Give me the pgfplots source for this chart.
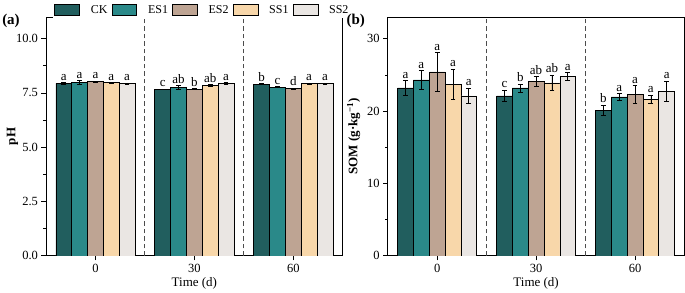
\documentclass[border=0pt]{standalone}
\usepackage{pgfplots}
\pgfplotsset{compat=1.18}
\usepackage{pgfplotstable}
\usepackage{fontspec}
\setmainfont{Liberation Serif}
\definecolor{cCK}{HTML}{215E5E}
\definecolor{cES1}{HTML}{2A8989}
\definecolor{cES2}{HTML}{BEA493}
\definecolor{cSS1}{HTML}{F8D7AA}
\definecolor{cSS2}{HTML}{EAE6E3}

\pgfplotstableread{
g y1 e1 l1 y2 e2 l2 y3 e3 l3 y4 e4 l4 y5 e5 l5
0 7.94 0.03 a 7.98 0.10 a  8.03 0.02 a 7.97 0.02 a  7.94 0.02 a
1 7.67 0.02 c 7.76 0.08 ab 7.68 0.02 b 7.85 0.04 ab 7.94 0.03 a
2 7.91 0.02 b 7.77 0.02 c  7.70 0.02 d 7.93 0.03 a  7.93 0.03 a
}\phdata

\pgfplotstableread{
g y1 e1 l1 y2 e2 l2 y3 e3 l3 y4 e4 l4 y5 e5 l5
0 23.2 1.0 a 24.3 1.3  a 25.4 2.7  a  23.7 2.1  a  22.1 1.1  a
1 22.1 0.8 c 23.2 0.55 b 24.05 0.7 ab 23.9 1.05 ab 24.8 0.55 a
2 20.1 0.7 b 21.95 0.5 a 22.3 1.2  a  21.65 0.55 a 22.75 1.4 a
}\somdata

\newcommand{\barseries}[4]{%
\addplot[ybar, bar width=0.16, bar shift=0pt, fill=#4, draw=black, line width=0.6pt,
  error bars/.cd, y dir=both, y explicit,
  error bar style={line width=0.7pt, black},
  error mark options={rotate=90, mark size=2.4pt, line width=0.7pt, black}]
  table[x expr=\thisrow{g}+#3, y=y#2, y error=e#2] {#1};
}
\newcommand{\labseries}[3]{%
\addplot[forget plot, draw=none, mark=none, nodes near coords, point meta=explicit symbolic,
  nodes near coords style={font=\fontsize{13}{13}\selectfont, inner sep=1pt, anchor=south, yshift=1pt, text=black}]
  table[x expr=\thisrow{g}+#3, y expr=\thisrow{y#2}+\thisrow{e#2}, meta=l#2] {#1};
}

\pgfplotsset{
  panel/.style={
    width=297pt, height=239pt, scale only axis,
    xmin=-0.5, xmax=2.5, ymin=0,
    xtick={0,1,2}, xticklabels={0,30,60},
    minor y tick num=1,
    tick align=outside, tick pos=left,
    major tick length=4.5pt, minor tick length=2.5pt,
    every tick/.style={black, line width=0.7pt},
    axis line style={line width=0.8pt},
    tick label style={font=\fontsize{12.5}{13}\selectfont},
    label style={font=\fontsize{13}{14}\selectfont},
    /pgf/number format/assume math mode=true,
    xlabel={Time (d)},
    xlabel style={yshift=2pt},
    area legend,
    legend image code/.code={\draw[##1] (0pt,-5.5pt) rectangle (25pt,6pt);},
  }
}

\begin{document}
\begin{tikzpicture}
\begin{axis}[panel, ymax=11,
  ytick={0,2.5,5,7.5,10},
  yticklabel style={/pgf/number format/.cd, fixed, fixed zerofill, precision=1},
  ylabel={\textbf{pH}},
  ylabel shift=-9pt,
  legend columns=5,
  legend style={draw=none, at={(0.527,1)}, anchor=south, yshift=-1pt,
    font=\fontsize{12}{12}\selectfont, inner sep=1pt,
    /tikz/every even column/.append style={column sep=2pt},
    /tikz/every odd column/.append style={column sep=9pt}},
  legend cell align=left]
\barseries{\phdata}{1}{-0.32}{cCK}
\barseries{\phdata}{2}{-0.16}{cES1}
\barseries{\phdata}{3}{0}{cES2}
\barseries{\phdata}{4}{0.16}{cSS1}
\barseries{\phdata}{5}{0.32}{cSS2}
\legend{CK,ES1,ES2,SS1,SS2}
\labseries{\phdata}{1}{-0.32}
\labseries{\phdata}{2}{-0.16}
\labseries{\phdata}{3}{0}
\labseries{\phdata}{4}{0.16}
\labseries{\phdata}{5}{0.32}
\draw[dash pattern=on 4.5pt off 3pt, line width=0.8pt, black!70] (axis cs:0.5,0) -- (axis cs:0.5,11);
\draw[dash pattern=on 4.5pt off 3pt, line width=0.8pt, black!70] (axis cs:1.5,0) -- (axis cs:1.5,11);
\end{axis}

\begin{axis}[panel, at={(342pt,0)}, ymax=33,
  ytick={0,10,20,30},
  ylabel={\textbf{SOM (g·kg\textsuperscript{−1})}}]
\barseries{\somdata}{1}{-0.32}{cCK}
\barseries{\somdata}{2}{-0.16}{cES1}
\barseries{\somdata}{3}{0}{cES2}
\barseries{\somdata}{4}{0.16}{cSS1}
\barseries{\somdata}{5}{0.32}{cSS2}
\labseries{\somdata}{1}{-0.32}
\labseries{\somdata}{2}{-0.16}
\labseries{\somdata}{3}{0}
\labseries{\somdata}{4}{0.16}
\labseries{\somdata}{5}{0.32}
\draw[dash pattern=on 4.5pt off 3pt, line width=0.8pt, black!70] (axis cs:0.5,0) -- (axis cs:0.5,33);
\draw[dash pattern=on 4.5pt off 3pt, line width=0.8pt, black!70] (axis cs:1.5,0) -- (axis cs:1.5,33);
\end{axis}

\node[font=\bfseries\fontsize{15}{15}\selectfont] at (-35pt,235pt) {(a)};
\node[font=\bfseries\fontsize{15}{15}\selectfont] at (310pt,235pt) {(b)};
\pgfresetboundingbox
\path (-46pt,-37pt) rectangle (639.5pt,256pt);
\end{tikzpicture}
\end{document}
